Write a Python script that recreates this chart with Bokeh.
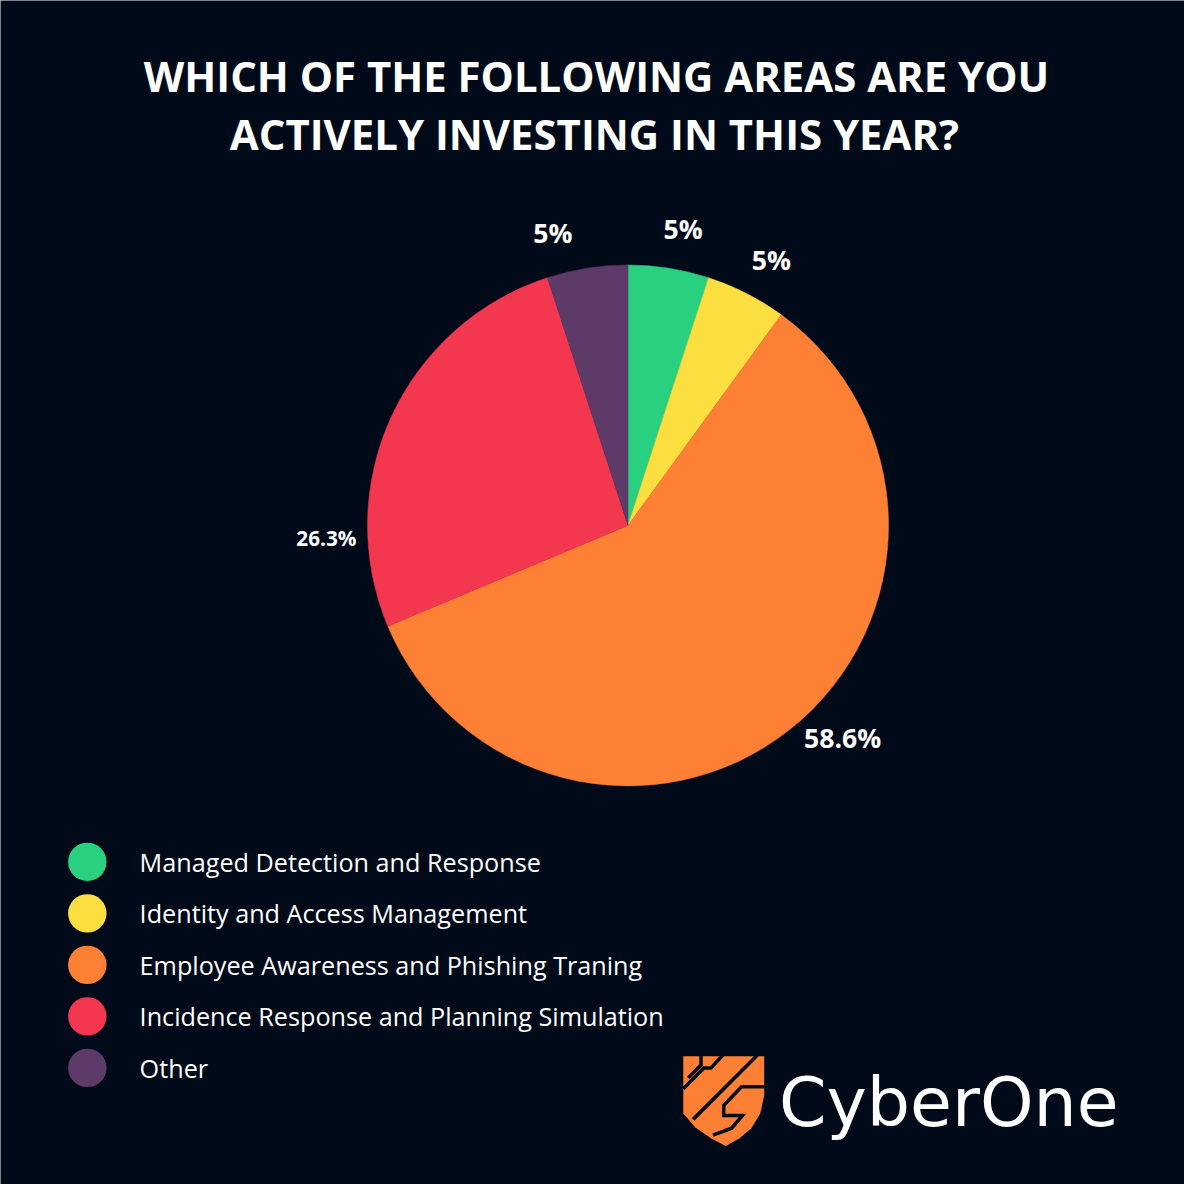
import math
from bokeh.plotting import figure
from bokeh.models import Range1d
from bokeh.core.properties import value
from bokeh.embed import file_html
from bokeh.resources import INLINE

# ---------------- data ----------------
title_lines = ["WHICH OF THE FOLLOWING AREAS ARE YOU", "ACTIVELY INVESTING IN THIS YEAR?"]
categories = [
    "Managed Detection and Response",
    "Identity and Access Management",
    "Employee Awareness and Phishing Traning",
    "Incidence Response and Planning Simulation",
    "Other",
]
values = [5, 5, 58.6, 26.3, 5]
value_labels = ["5%", "5%", "58.6%", "26.3%", "5%"]
colors = ["#29d07f", "#fbde40", "#fe8034", "#f2374e", "#5e3a69"]
brand = "CyberOne"

# ---------------- layout / style ----------------
BG = "#010a19"
W = H = 1184
S = W / 1200.0          # design units (1200) -> pixels
FONT = "Open Sans"


def fs(px):
    return "%.1fpx" % (px * S)


def Y(sy):
    # design y measured from the top -> data y (upward)
    return 1200 - sy


p = figure(width=W, height=H, x_range=Range1d(0, 1200), y_range=Range1d(0, 1200),
           output_backend="svg", toolbar_location=None, min_border=0)
p.axis.visible = False
p.grid.visible = False
p.background_fill_color = BG
p.border_fill_color = BG
p.outline_line_color = None

# title
p.text(x=[604, 602], y=[Y(76), Y(135)], text=title_lines,
       text_font=value(FONT), text_font_style="bold", text_font_size=fs(42.5),
       text_color="white", text_align="center", text_baseline="middle")

# pie
cx, cy, R = 636, Y(532), 264
total = sum(values)
starts, ends = [], []
cum = 0.0
for v in values:
    starts.append(math.pi / 2 - 2 * math.pi * cum / total)
    cum += v
    ends.append(math.pi / 2 - 2 * math.pi * cum / total)

p.wedge(x=cx, y=cy, radius=R, start_angle=starts, end_angle=ends, direction="clock",
        fill_color=colors, line_color=colors, line_width=0.5)

# value labels
label_nudge_deg = [1.5, 1.3, -6.9, -27.0, -5.4]   # clockwise shift of label from slice middle
label_sizes = [27, 27, 27, 21, 27]
rl = 306
for s, e, nd, t, fz in zip(starts, ends, label_nudge_deg, value_labels, label_sizes):
    a = (s + e) / 2 - math.radians(nd)
    p.text(x=[cx + rl * math.cos(a)], y=[cy + rl * math.sin(a)], text=[t],
           text_font=value(FONT), text_font_style="bold", text_font_size=fs(fz),
           text_color="white", text_align="center", text_baseline="middle")

# legend
leg_y = [Y(873 + i * 52.2) for i in range(len(categories))]
p.ellipse(x=[88] * len(categories), y=leg_y, width=39, height=39,
          fill_color=colors, line_color=None)
p.text(x=[141] * len(categories), y=leg_y, text=categories,
       text_font=value(FONT), text_font_size=fs(25.5), text_color="white",
       text_align="left", text_baseline="middle")

# logo shield (decoration)
shield_x = [692, 774, 774, 770, 761, 749, 735, 720, 704, 692]
shield_y = [Y(v) for v in [1070, 1070, 1110, 1128, 1143, 1153, 1161, 1153, 1142, 1128]]
p.patch(shield_x, shield_y, fill_color="#fe8034", line_color=None)
traces_x = [
    [710, 710, 697],
    [732, 720, 713, 692],
    [767, 702],
    [776, 751, 733, 733, 752, 741, 722],
]
traces_y = [
    [Y(1069), Y(1079), Y(1092)],
    [Y(1069), Y(1082), Y(1082), Y(1103)],
    [Y(1069), Y(1134)],
    [Y(1101), Y(1101), Y(1120), Y(1130), Y(1130), Y(1143), Y(1150)],
]
p.multi_line(traces_x, traces_y, line_color=BG, line_width=3.6 * S,
             line_join="miter")

p.text(x=[789], y=[Y(1117)], text=[brand], text_font=value("DejaVu Sans"),
       text_font_size=fs(69), text_color="white", text_align="left", text_baseline="middle")

open("out.html", "w").write(file_html(p, INLINE))
